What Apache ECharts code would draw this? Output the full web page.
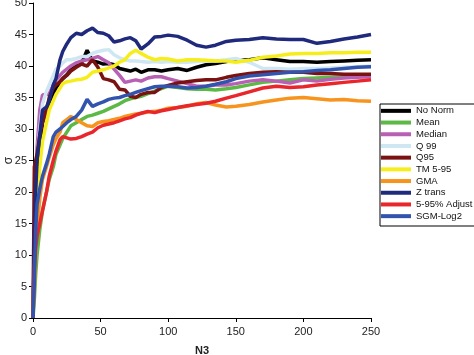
<!DOCTYPE html>
<html><head><meta charset="utf-8">
<script src="https://cdn.jsdelivr.net/npm/echarts@6/dist/echarts.min.js"></script>
<style>html,body{margin:0;padding:0;background:#fff}#c{width:474px;height:355px}</style>
</head><body><div id="c"></div>
<script>
const xs = [0,1,2,3,5,7,10,12,15,17,20,22,25,28,32,36,40,44,48,52,56,60,64,68,72,76,80,85,90,95,100,107,114,121,128,135,143,150,160,170,180,190,200,210,220,230,240,250];
const noNorm = [0,10,17,22,27,31,33,34,35.5,36.5,37.5,38,38.6,39.4,40,40.5,42.5,40.8,40.6,40.3,40.4,40.2,39.6,39.4,39.2,39.5,39,39.4,39.4,39.2,39.4,39.6,39.3,39.8,40.2,40.4,40.7,40.9,41,41.3,41,40.7,40.7,40.6,40.7,40.8,40.9,41];
const mean = [0,3,7,10,14,17,20,22,24,26,27.5,28.5,29.5,30.5,31,31.5,32,32.2,32.5,32.8,33.2,33.6,34,34.5,34.8,35,35.2,35.6,36,36.4,36.8,36.6,36.4,36.3,36.3,36.2,36.4,36.6,37,37.4,37.6,37.8,38,38.1,38.2,38.3,38.4,38.5];
const median = [0,15,22,27,33,35.4,35.5,35.6,37,37.8,38.5,39,39.5,40,40.5,40.8,41,41.2,41.5,41,40.5,39.5,38.5,37.4,37.6,37.8,37.6,38.1,38.3,38.3,38,37.6,37.2,36.8,36.8,37,37,37.2,37.6,37.8,37.6,37.3,37.8,37.6,37.9,38.1,38.2,38.3];
const q99 = [0,22,25,25.5,30,34,36,37,38.5,39.5,40,40.5,41,41,41.2,41.5,41.5,42,42.3,42.5,42.6,41.8,41.3,41,40.8,40.8,40.7,40.6,40.7,40.6,40.7,40.6,40.6,40.7,40.8,40.8,41,41.2,40.6,39.6,39.6,39.5,39.6,39.6,39.7,39.8,39.9,40];
const q95 = [0,24,25,26,29,31,33,35,36.5,37,37.5,38,38.5,39.2,39.8,40.3,40,41,39.8,38,37.8,37.5,36.3,36.2,35.2,35,35.5,35.8,35.8,36.6,36.9,37.3,37.5,37.7,37.8,37.8,38.2,38.5,38.8,39,39.1,39,39,38.8,38.8,38.7,38.7,38.7];
const tm595 = [0,8,14,18,24,28,31,33,34.5,35.5,36.5,37.2,37.5,37.6,37.8,37.9,38.2,39,39.2,39.4,39.7,40,40.6,41,42,42.5,42,41.4,41,41.2,41.1,40.8,41,41,40.9,40.8,40.8,40.6,40.9,41.4,41.6,41.9,42,42,42.1,42.1,42.2,42.2];
const gma = [0,5,10,14,19,22,24,25.5,27.5,28.5,29.5,31,31.5,32,31.5,31,30.5,30.4,31,31.2,31.3,31.5,31.7,32,32.2,32.4,32.5,32.7,32.8,33,33.3,33.4,33.6,34,34.2,33.8,33.5,33.6,33.9,34.3,34.6,34.9,35,34.8,34.6,34.7,34.5,34.4];
const zTrans = [0,12,20,25,29,33,33.5,34.5,37,38,41,42.3,43.5,44.5,45.2,45,45.6,46,45.3,45.2,44.8,43.8,44,44.3,44.5,44,42.7,43.5,44.6,44.7,44.9,44.7,44.1,43.3,43,43.3,43.9,44.1,44.2,44.5,44.3,44.2,44.2,43.6,43.9,44.3,44.6,45];
const adj595 = [0,8,11,13,15,17,20,22.5,25,26.5,28.3,28.8,28.6,28.4,28.5,28.8,29.2,29.5,30.2,30.6,30.8,31,31.3,31.6,31.8,32.2,32.5,32.8,32.6,32.9,33.1,33.4,33.7,33.9,34.1,34.4,34.9,35.3,35.9,36.5,36.8,36.6,36.7,37,37.2,37.4,37.6,37.8];
const sgmLog2 = [0,6,14,18,20.5,22.5,24.5,26,28.8,29.5,30,30.4,31,31.5,32,33,34.7,33.6,34,34.3,34.7,34.9,35,35.3,35.5,35.8,36.1,36.4,36.7,36.8,36.8,36.7,36.5,36.6,36.8,37.1,37.5,38,38.4,38.6,38.8,39,39.1,39.3,39.4,39.6,39.8,39.9];

const names = ['No Norm','Mean','Median','Q 99','Q95','TM 5-95','GMA','Z trans','5-95% Adjust','SGM-Log2'];
const values = [noNorm,mean,median,q99,q95,tm595,gma,zTrans,adj595,sgmLog2];
const colors = ['#000000','#5cb946','#b860b4','#cfe7f3','#7a1212','#f5ee1c','#f7941d','#1f2a7c','#e8262b','#3354ad'];

const chart = echarts.init(document.getElementById('c'));
chart.setOption({
  animation: false,
  color: colors,
  grid: {left: 33, right: 103, top: 3, bottom: 37, containLabel: false, outerBoundsMode: 'none'},
  legend: {
    orient: 'vertical', left: 380, top: 104,
    icon: 'rect', itemWidth: 30, itemHeight: 4, itemGap: 0, itemTextGap: 1,
    padding: [1, 20, 4, 1],
    borderColor: '#000', borderWidth: 1, backgroundColor: '#fff',
    textStyle: {fontFamily: 'Liberation Sans, Arial', fontSize: 9.5, color: '#111', lineHeight: 11.7},
    data: names
  },
  xAxis: {
    type: 'value', min: 0, max: 250, interval: 50,
    name: 'N3', nameLocation: 'middle', nameGap: 27,
    nameTextStyle: {fontFamily: 'Liberation Sans, Arial', fontSize: 11, fontWeight: 'bold', color: '#222'},
    axisLine: {lineStyle: {color: '#000', width: 1}},
    axisTick: {show: true, length: 4, lineStyle: {color: '#000'}},
    axisLabel: {fontFamily: 'Liberation Sans, Arial', fontSize: 11, color: '#222', margin: 8},
    splitLine: {show: false}
  },
  yAxis: {
    type: 'value', min: 0, max: 50, interval: 5,
    name: 'σ', nameLocation: 'middle', nameGap: 18, nameRotate: 90, nameMoveOverlap: false,
    nameTextStyle: {fontFamily: 'Liberation Sans, Arial', fontSize: 12, color: '#222'},
    axisLine: {show: true, lineStyle: {color: '#000', width: 1}},
    axisTick: {show: true, length: 4, lineStyle: {color: '#000'}},
    axisLabel: {fontFamily: 'Liberation Sans, Arial', fontSize: 11, color: '#222', margin: 6},
    splitLine: {show: false}
  },
  series: names.map((n, i) => ({
    name: n, type: 'line', showSymbol: false, symbol: 'none',
    lineStyle: {width: 3.5, color: colors[i]},
    itemStyle: {color: colors[i]},
    data: xs.map((x, j) => [x, values[i][j]])
  }))
});
</script></body></html>
